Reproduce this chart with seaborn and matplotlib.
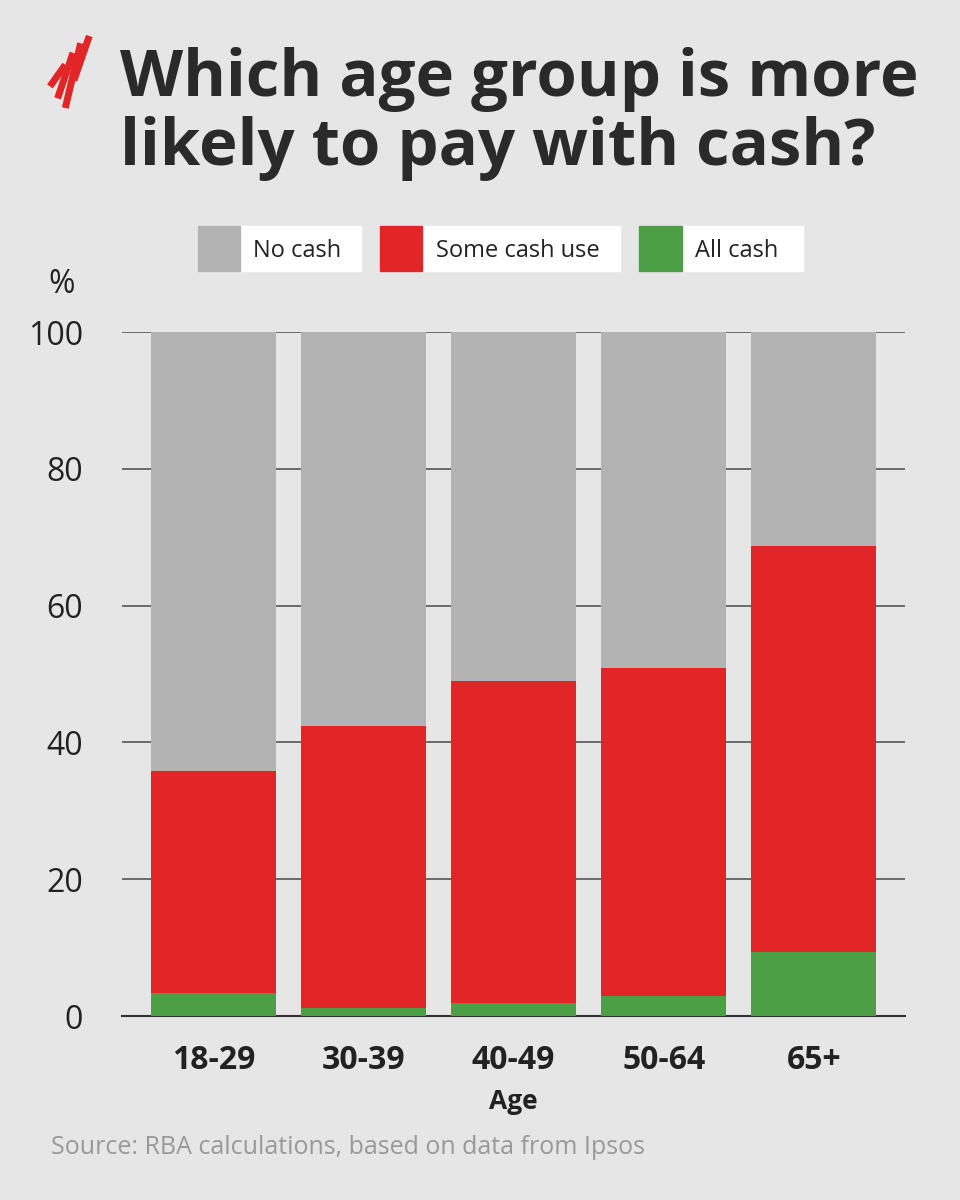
import matplotlib.pyplot as plt
import matplotlib.patches as mpatches
import seaborn as sns
import pandas as pd

ages = ['18-29', '30-39', '40-49', '50-64', '65+']
all_cash = [3.4, 1.2, 1.9, 2.9, 9.4]
some_cash = [32.4, 41.2, 47.1, 48.0, 59.3]
no_cash = [64.2, 57.6, 51.0, 49.1, 31.3]
labels = ['No cash', 'Some cash use', 'All cash']
colors = ['#b3b3b3', '#e22526', '#4c9f45']

BG = '#e6e6e6'
sns.set_theme(style='white')
plt.rcParams['font.family'] = ['Open Sans', 'DejaVu Sans']

df = pd.DataFrame({'age': ages, 'all': all_cash, 'some': some_cash, 'none': no_cash})
df['top_some'] = df['all'] + df['some']
df['top_none'] = df['top_some'] + df['none']

fig = plt.figure(figsize=(9.6, 12), dpi=100, facecolor=BG)
ax = fig.add_axes([0.127, 0.1533, 0.816, 0.57], facecolor=BG)

# layered bars: full stack first, then overlays
for col, c in zip(['top_none', 'top_some', 'all'], colors):
    sns.barplot(data=df, x='age', y=col, color=c, width=0.83, saturation=1,
                edgecolor='none', ax=ax, zorder=3)

ax.set_ylim(0, 100)
ax.set_xlim(-0.61, 4.61)
ax.set_yticks([0, 20, 40, 60, 80, 100])
ax.yaxis.grid(True, color='#555555', lw=1.2, zorder=0)
ax.set_axisbelow(True)
for s in ['top', 'right', 'left']:
    ax.spines[s].set_visible(False)
ax.spines['bottom'].set_color('#333333')
ax.spines['bottom'].set_linewidth(1.5)
ax.tick_params(axis='y', length=0, pad=28, labelsize=23, labelcolor='#222222')
ax.tick_params(axis='x', length=0, pad=20, labelsize=23, labelcolor='#222222')
for t in ax.get_yticklabels():
    t.set_fontweight('medium')
for t in ax.get_xticklabels():
    t.set_fontweight('bold')
ax.set_ylabel('')
ax.set_xlabel('Age', fontsize=19, fontweight='bold', color='#222222', labelpad=8)
ax.text(-0.06, 1.045, '%', transform=ax.transAxes, fontsize=23, color='#222222',
        ha='right', va='bottom')

# title
fig.text(0.125, 0.934, 'Which age group is more', fontsize=47, fontweight='bold',
         color='#2a2a2a', va='center')
fig.text(0.125, 0.876, 'likely to pay with cash?', fontsize=47, fontweight='bold',
         color='#2a2a2a', va='center')

# logo: a few slanted red strokes
for x0, y0, y1 in [(0.052, 0.946, 0.928), (0.060, 0.956, 0.918),
                   (0.068, 0.964, 0.910), (0.077, 0.970, 0.933)]:
    fig.add_artist(plt.Line2D([x0 + 0.016, x0], [y0, y1], color='#e22526',
                              lw=5, solid_capstyle='butt', transform=fig.transFigure))

# legend boxes
lx = [0.206, 0.396, 0.666]
lw = [0.170, 0.250, 0.170]
for x, w, lab, c in zip(lx, lw, labels, colors):
    fig.add_artist(mpatches.Rectangle((x, 0.774), w, 0.038, color='white',
                                      transform=fig.transFigure))
    fig.add_artist(mpatches.Rectangle((x, 0.774), 0.044, 0.038, color=c,
                                      transform=fig.transFigure))
    fig.text(x + 0.058, 0.791, lab, fontsize=17, color='#222222', va='center')

fig.text(0.053, 0.044, 'Source: RBA calculations, based on data from Ipsos',
         fontsize=18, color='#999999', va='center')

fig.savefig('out.png', dpi=100, facecolor=BG)
